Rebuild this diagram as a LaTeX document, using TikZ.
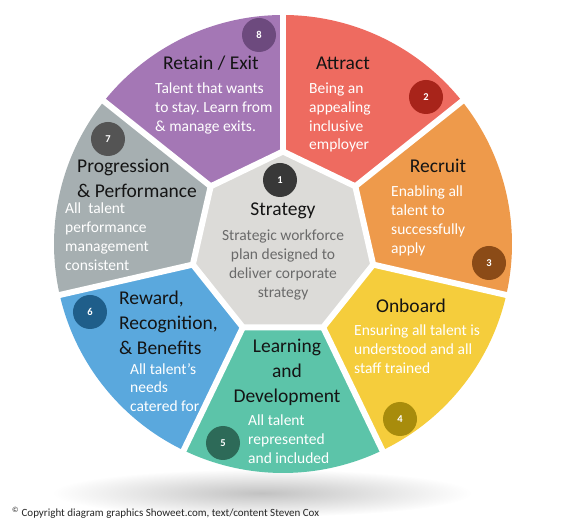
\documentclass[tikz,border=0pt]{standalone}
\usepackage{fontspec}
\setmainfont{Carlito}
\frenchspacing
\definecolor{retain}{HTML}{A477B5}
\definecolor{attract}{HTML}{EE6B60}
\definecolor{recruit}{HTML}{EE9A4B}
\definecolor{onboard}{HTML}{F5CD3C}
\definecolor{learning}{HTML}{5CC4A9}
\definecolor{reward}{HTML}{5AA8DD}
\definecolor{progress}{HTML}{A6AFB1}
\definecolor{strategy}{HTML}{DCDBD8}
\definecolor{titletext}{HTML}{141414}
\definecolor{centretext}{HTML}{6A6A6A}

\begin{document}
\begin{tikzpicture}[x=1pt,y=1pt,
  title/.style={font=\fontsize{19.5}{25}\selectfont,text=titletext,inner sep=0pt},
  body/.style={font=\fontsize{15.5}{18.7}\selectfont,text=white,align=left,inner sep=0pt,anchor=north west},
  badge/.style={circle,minimum size=34pt,inner sep=0pt,text=white,font=\bfseries\fontsize{10.5}{10.5}\selectfont}]
\useasboundingbox (-283,-285) rectangle (284,244);
\shade[inner color=black!24,outer color=white] (-21,-249) ellipse (210 and 24);
\fill[attract] (0,0) -- (90:229) arc[start angle=90,end angle=38.57,radius=229pt] -- cycle;
\fill[recruit] (0,0) -- (38.57:229) arc[start angle=38.57,end angle=-12.86,radius=229pt] -- cycle;
\fill[onboard] (0,0) -- (-12.86:229) arc[start angle=-12.86,end angle=-64.29,radius=229pt] -- cycle;
\fill[learning] (0,0) -- (-64.29:229) arc[start angle=-64.29,end angle=-115.71,radius=229pt] -- cycle;
\fill[reward] (0,0) -- (-115.71:229) arc[start angle=-115.71,end angle=-167.14,radius=229pt] -- cycle;
\fill[progress] (0,0) -- (-167.14:229) arc[start angle=-167.14,end angle=-218.57,radius=229pt] -- cycle;
\fill[retain] (0,0) -- (141.43:229) arc[start angle=141.43,end angle=90,radius=229pt] -- cycle;
\fill[strategy] (90:92.5) -- (38.57:92.5) -- (-12.86:92.5) -- (-64.29:92.5) -- (-115.71:92.5) -- (-167.14:92.5) -- (141.43:92.5) -- cycle;
\draw[white,line width=6pt] (90:92.5) -- (38.57:92.5) -- (-12.86:92.5) -- (-64.29:92.5) -- (-115.71:92.5) -- (-167.14:92.5) -- (141.43:92.5) -- cycle;
\draw[white,line width=6pt] (90:92.5) -- (90:236);
\draw[white,line width=6pt] (38.57:92.5) -- (38.57:236);
\draw[white,line width=6pt] (-12.86:92.5) -- (-12.86:236);
\draw[white,line width=6pt] (-64.29:92.5) -- (-64.29:236);
\draw[white,line width=6pt] (-115.71:92.5) -- (-115.71:236);
\draw[white,line width=6pt] (-167.14:92.5) -- (-167.14:236);
\draw[white,line width=6pt] (141.43:92.5) -- (141.43:236);

\node[badge,fill=black!78] (b1) at (-3,64) {1};
\node[title] (strat) at (0,33) {Strategy};
\node[body,anchor=center,align=center,text=centretext] (stratbody) at (0,-21) {Strategic workforce\\plan designed to\\deliver corporate\\strategy};

\node[title] (attr) at (60,181) {Attract};
\node[body] (attrbody) at (26,161) {Being an\\appealing\\inclusive\\employer};
\node[badge,fill={rgb,255:red,168;green,36;blue,26}] (b2) at (143,147) {2};

\node[title] (recr) at (155,78) {Recruit};
\node[body] (recrbody) at (108,58) {Enabling all\\talent to\\successfully\\apply};
\node[badge,fill={rgb,255:red,139;green,75;blue,23}] (b3) at (206,-19) {3};

\node[title] (onb) at (128,-62) {Onboard};
\node[body] (onbbody) at (71,-81) {Ensuring all talent is\\understood and all\\staff trained};
\node[badge,fill={rgb,255:red,168;green,140;blue,12}] (b4) at (117,-175) {4};

\node[title,align=center] (learn) at (4,-128) {Learning\\and\\Development};
\node[body] (learnbody) at (-35,-171) {All talent\\represented\\and included};
\node[badge,fill={rgb,255:red,45;green,106;blue,88}] (b5) at (-60,-199) {5};

\node[title,align=left,anchor=north west] (rew) at (-164,-47) {Reward,\\Recognition,\\\& Benefits};
\node[body] (rewbody) at (-153,-119) {All talent's\\needs\\catered for};
\node[badge,fill={rgb,255:red,31;green,94;blue,138}] (b6) at (-193,-68) {6};

\node[title,align=left,anchor=north west] (prog) at (-206,85) {Progression\\\& Performance};
\node[body] (progbody) at (-218,41) {All\ \ talent\\performance\\management\\consistent};
\node[badge,fill=black!67] (b7) at (-175,105) {7};

\node[title] (ret) at (-72,181) {Retain / Exit};
\node[body] (retbody) at (-128,161) {Talent that wants\\to stay. Learn from\\\& manage exits.};
\node[badge,fill={rgb,255:red,109;green,74;blue,126}] (b8) at (-24,209) {8};

\node[anchor=west,inner sep=0pt,font=\fontsize{11}{12}\selectfont,text=black!85] (copy) at (-271,-269) {\textsuperscript{©} Copyright diagram graphics Showeet.com, text/content Steven Cox};
\end{tikzpicture}
\end{document}
